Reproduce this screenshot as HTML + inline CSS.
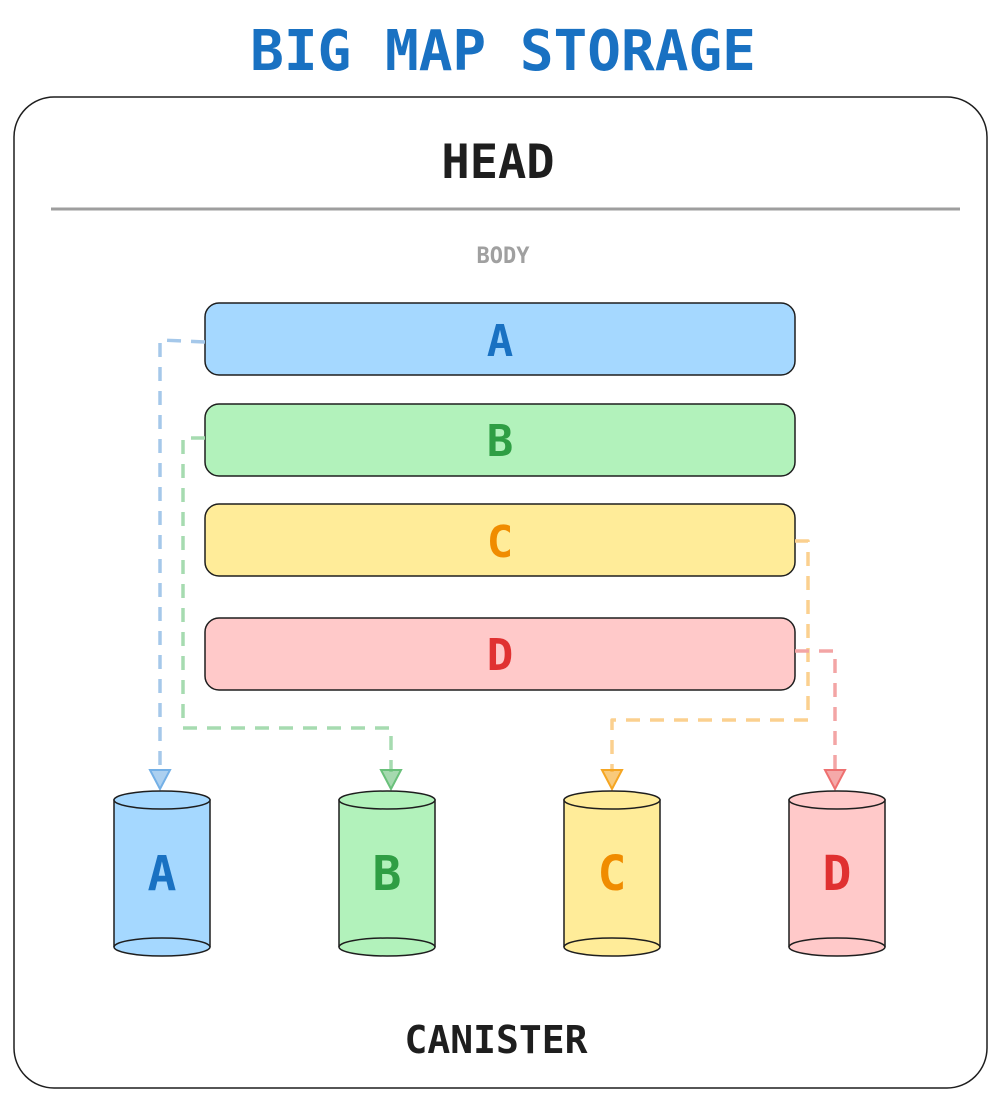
<!DOCTYPE html>
<html><head><style>body{margin:0;background:#fff}svg{display:block}</style></head><body>
<svg width="1000" height="1102" viewBox="0 0 1000 1102" xmlns="http://www.w3.org/2000/svg">
<text x="503" y="70" text-anchor="middle" font-family="DejaVu Sans Mono, monospace" font-weight="bold" font-size="56" fill="#1971c2">BIG MAP STORAGE</text>
<rect x="14" y="97" width="973" height="991" rx="40" fill="#fff" stroke="#1e1e1e" stroke-width="1.5"/>
<text x="498" y="178" text-anchor="middle" font-family="DejaVu Sans Mono, monospace" font-weight="bold" font-size="47" fill="#1e1e1e">HEAD</text>
<line x1="51" y1="209" x2="960" y2="209" stroke="#9e9e9e" stroke-width="3"/>
<text x="503" y="263" text-anchor="middle" font-family="DejaVu Sans Mono, monospace" font-weight="bold" font-size="22" fill="#a0a0a0">BODY</text>
<g stroke="#1e1e1e" stroke-width="1.5">
<rect x="205" y="303" width="590" height="72" rx="14" fill="#a5d8ff"/>
<rect x="205" y="404" width="590" height="72" rx="14" fill="#b2f2bb"/>
<rect x="205" y="504" width="590" height="72" rx="14" fill="#ffec99"/>
<rect x="205" y="618" width="590" height="72" rx="14" fill="#ffc9c9"/>
</g>
<g font-family="DejaVu Sans Mono, monospace" font-weight="bold" font-size="44" text-anchor="middle">
<text x="500" y="356" fill="#1971c2">A</text>
<text x="500" y="456" fill="#2f9e44">B</text>
<text x="500" y="557" fill="#f08c00">C</text>
<text x="500" y="670" fill="#e03131">D</text>
</g>
<g fill="none" stroke-width="3.5" stroke-dasharray="14 10" stroke-linejoin="round">
<path d="M205 342 L160 340 L160 772" stroke="#a5c8ea"/>
<path d="M205 438 L183 438 L183 728 L391 728 L391 772" stroke="#a6dbb0"/>
<path d="M795 541 L808 541 L808 720 L612 720 L612 772" stroke="#fbd08f"/>
<path d="M795 651 L835 651 L835 772" stroke="#f3a5a5"/>
</g>
<g stroke-width="2" fill-opacity="0.6">
<path d="M150 770 L170 770 L160 789 Z" fill="#74b0e6" stroke="#74b0e6"/>
<path d="M381 770 L401 770 L391 789 Z" fill="#69c07a" stroke="#69c07a"/>
<path d="M602 770 L622 770 L612 789 Z" fill="#f5a623" stroke="#f5a623"/>
<path d="M825 770 L845 770 L835 789 Z" fill="#ee7070" stroke="#ee7070"/>
</g>
<g stroke="#1e1e1e" stroke-width="1.5">
<path d="M114 800 L114 947 A48 9 0 0 0 210 947 L210 800 Z" fill="#a5d8ff"/>
<ellipse cx="162" cy="800" rx="48" ry="9" fill="#a5d8ff"/>
<path d="M339 800 L339 947 A48 9 0 0 0 435 947 L435 800 Z" fill="#b2f2bb"/>
<ellipse cx="387" cy="800" rx="48" ry="9" fill="#b2f2bb"/>
<path d="M564 800 L564 947 A48 9 0 0 0 660 947 L660 800 Z" fill="#ffec99"/>
<ellipse cx="612" cy="800" rx="48" ry="9" fill="#ffec99"/>
<path d="M789 800 L789 947 A48 9 0 0 0 885 947 L885 800 Z" fill="#ffc9c9"/>
<ellipse cx="837" cy="800" rx="48" ry="9" fill="#ffc9c9"/>
<path d="M114 947 A48 9 0 0 1 210 947" fill="none"/>
<path d="M339 947 A48 9 0 0 1 435 947" fill="none"/>
<path d="M564 947 A48 9 0 0 1 660 947" fill="none"/>
<path d="M789 947 A48 9 0 0 1 885 947" fill="none"/>
</g>
<g font-family="DejaVu Sans Mono, monospace" font-weight="bold" font-size="48" text-anchor="middle">
<text x="162" y="890" fill="#1971c2">A</text>
<text x="387" y="890" fill="#2f9e44">B</text>
<text x="612" y="890" fill="#f08c00">C</text>
<text x="837" y="890" fill="#e03131">D</text>
</g>
<text x="496" y="1053" text-anchor="middle" font-family="DejaVu Sans Mono, monospace" font-weight="bold" font-size="38" fill="#1e1e1e">CANISTER</text>
</svg>
</body></html>
